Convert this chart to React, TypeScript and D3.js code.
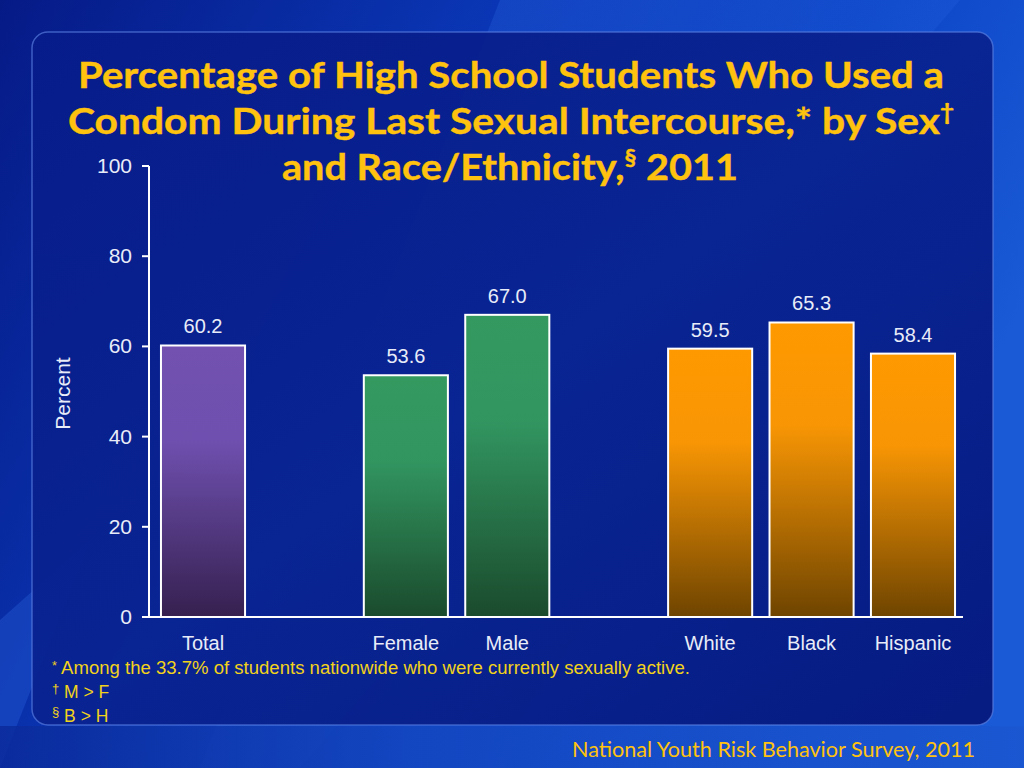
import * as d3 from 'd3';

// Bar chart: condom use at last sexual intercourse, YRBS 2011.

const CATEGORIES = ['Total', 'gap1', 'Female', 'Male', 'gap2', 'White', 'Black', 'Hispanic'];
const BAR_LABELS = ['Total', 'Female', 'Male', 'White', 'Black', 'Hispanic'];
const VALUES     = [60.2, 53.6, 67.0, 59.5, 65.3, 58.4];
const GROUPS     = ['total', 'sex', 'sex', 'race', 'race', 'race'];
const Y_TICKS    = [0, 20, 40, 60, 80, 100];

const TITLE_LINES = [
  'Percentage of High School Students Who Used a',
  'Condom During Last Sexual Intercourse,* by Sex',
  'and Race/Ethnicity,',
];

const W = 1024;
const H = 768;
const AXIS_X  = 149;
const Y_TOP   = 166;
const Y_BASE  = 617;

const YELLOW = '#ffc20e';
const LABEL_FONT = '"Liberation Sans", Arial, sans-serif';
const TITLE_FONT = 'Lato, "Open Sans", sans-serif';

const GRADIENTS: Record<string, [string, string]> = {
  total: ['#7251b0', '#35204f'],
  sex:   ['#33995f', '#1a4a2c'],
  race:  ['#ff9900', '#6e4400'],
};

export default function App() {
  const x = d3.scaleBand<string>()
    .domain(CATEGORIES)
    .range([AXIS_X, 967])
    .paddingInner(0.171)
    .paddingOuter(0.118);

  const y = d3.scaleLinear().domain([0, 100]).range([Y_BASE, Y_TOP]);

  return (
    <svg width={W} height={H} style={{ display: 'block', position: 'absolute', left: 0, top: 0 }}>
      <defs>
        <linearGradient id="bg" x1="0" y1="0" x2="1" y2="0.4">
          <stop offset="0" stopColor="#061a86" />
          <stop offset="0.45" stopColor="#0a38b8" />
          <stop offset="0.75" stopColor="#0c46c8" />
          <stop offset="1" stopColor="#1a5ad6" />
        </linearGradient>
        <linearGradient id="streak" x1="0" y1="0" x2="1" y2="1">
          <stop offset="0" stopColor="#3a7af0" stopOpacity={0.5} />
          <stop offset="1" stopColor="#3a7af0" stopOpacity={0} />
        </linearGradient>
        <linearGradient id="bottomBand" x1="0" y1="0" x2="1" y2="0">
          <stop offset="0" stopColor="#0a2a9a" />
          <stop offset="0.4" stopColor="#1446c0" />
          <stop offset="1" stopColor="#1a56d0" />
        </linearGradient>
        <linearGradient id="panel" x1="0" y1="0" x2="1" y2="1">
          <stop offset="0" stopColor="#071c8a" />
          <stop offset="0.5" stopColor="#092492" />
          <stop offset="1" stopColor="#061a80" />
        </linearGradient>
        {Object.entries(GRADIENTS).map(([k, [top, bottom]]) => (
          <linearGradient key={k} id={`bar-${k}`} x1="0" y1="0" x2="0" y2="1">
            <stop offset="0" stopColor={top} />
            <stop offset="0.35" stopColor={top} stopOpacity={0.97} />
            <stop offset="1" stopColor={bottom} />
          </linearGradient>
        ))}
      </defs>

      {/* backdrop with diagonal light streaks */}
      <rect x={0} y={0} width={W} height={H} fill="url(#bg)" />
      <path d="M 500 0 L 960 0 L 300 768 L 200 768 Z" fill="url(#streak)" opacity={0.5} />
      <path d="M 0 620 L 90 540 L 0 768 Z" fill="#2a64e0" opacity={0.35} />
      <rect x={0} y={726} width={W} height={42} fill="url(#bottomBand)" opacity={0.85} />

      {/* content panel */}
      <rect x={32} y={32} width={961} height={693} rx={16} fill="url(#panel)" opacity={0.97}
        stroke="#5a7ee0" strokeOpacity={0.7} strokeWidth={1.5} />

      {/* title */}
      <g fill={YELLOW} fontFamily={TITLE_FONT} fontWeight={700} fontSize={37} textAnchor="middle"
        stroke={YELLOW} strokeWidth={0.4}>
        <text x={511} y={88} textLength={866} lengthAdjust="spacingAndGlyphs">{TITLE_LINES[0]}</text>
        <text x={511} y={134} textLength={886} lengthAdjust="spacingAndGlyphs">
          {TITLE_LINES[1]}
          <tspan fontSize={22} dy={-14}>†</tspan>
        </text>
        <text x={510} y={180} textLength={456} lengthAdjust="spacingAndGlyphs">
          {TITLE_LINES[2]}
          <tspan fontSize={22} dy={-14}>§</tspan>
          <tspan dy={14}> 2011</tspan>
        </text>
      </g>

      {/* y axis */}
      <g stroke="#ffffff" strokeWidth={2}>
        <line x1={AXIS_X} x2={AXIS_X} y1={Y_TOP} y2={Y_BASE} />
        {Y_TICKS.map((t) => (
          <line key={t} x1={AXIS_X - 7} x2={AXIS_X} y1={y(t)} y2={y(t)} />
        ))}
        <line x1={AXIS_X - 7} x2={963} y1={Y_BASE} y2={Y_BASE} />
      </g>
      <g fill="#e8ecf8" fontFamily={LABEL_FONT} fontSize={21} textAnchor="end">
        {Y_TICKS.map((t) => (
          <text key={t} x={132} y={y(t) + 7}>{t}</text>
        ))}
      </g>
      <text
        transform={`translate(70, ${(Y_TOP + Y_BASE) / 2 + 2}) rotate(-90)`}
        textAnchor="middle" fill="#e8ecf8" fontFamily={LABEL_FONT} fontSize={21}
      >
        Percent
      </text>

      {/* bars */}
      {BAR_LABELS.map((c, i) => {
        const bx = x(c)!;
        const bw = x.bandwidth();
        const v = VALUES[i];
        return (
          <g key={c}>
            <rect x={bx} y={y(v)} width={bw} height={Y_BASE - y(v)}
              fill={`url(#bar-${GROUPS[i]})`} stroke="#ffffff" strokeWidth={2} />
            <text x={bx + bw / 2} y={y(v) - 12} textAnchor="middle"
              fill="#e8ecf8" fontFamily={LABEL_FONT} fontSize={20}>
              {v.toFixed(1)}
            </text>
            <text x={bx + bw / 2} y={650} textAnchor="middle"
              fill="#e8ecf8" fontFamily={LABEL_FONT} fontSize={20}>
              {c}
            </text>
          </g>
        );
      })}

      {/* footnotes */}
      <g fill="#f2d21a" fontFamily={LABEL_FONT} fontSize={17.5}>
        <text x={52} y={674} textLength={638} lengthAdjust="spacingAndGlyphs">
          <tspan fontSize={12} dy={-4}>*</tspan>
          <tspan dy={4}> Among the 33.7% of students nationwide who were currently sexually active.</tspan>
        </text>
        <text x={52} y={698}>
          <tspan fontSize={13} dy={-5}>†</tspan>
          <tspan dy={5}> M &gt; F</tspan>
        </text>
        <text x={52} y={722}>
          <tspan fontSize={13} dy={-6}>§</tspan>
          <tspan dy={6}> B &gt; H</tspan>
        </text>
      </g>

      <text x={975} y={757} textAnchor="end" fill={YELLOW} fontFamily={TITLE_FONT}
        fontSize={21} textLength={403} lengthAdjust="spacingAndGlyphs">
        National Youth Risk Behavior Survey, 2011
      </text>
    </svg>
  );
}
